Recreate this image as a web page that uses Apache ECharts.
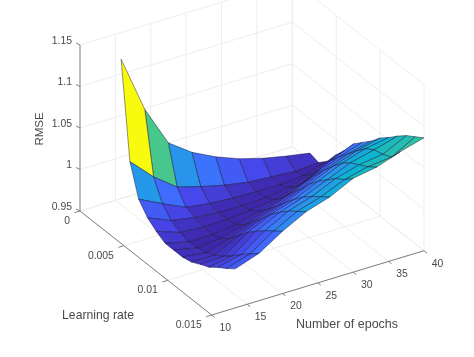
<!DOCTYPE html>
<html>
<head>
<meta charset="utf-8">
<style>
  html, body { margin: 0; background: #fff; }
  #chart { width: 474px; height: 357px; }
</style>
<script src="https://cdn.jsdelivr.net/npm/echarts@6/dist/echarts.min.js"></script>
</head>
<body>
<div id="chart"></div>
<script>
const epochs = [13.33, 16.67, 20, 23.33, 26.67, 30, 33.33, 36.67, 40];
const learningRates = [0.002, 0.003, 0.004, 0.005, 0.006, 0.007, 0.008, 0.009, 0.01, 0.011, 0.012, 0.013, 0.014, 0.015];
// one row per learning rate, one column per epoch count
const rmse = [
  [1.141, 1.072, 1.023, 1.003, 0.989, 0.978, 0.970, 0.964, 0.959],
  [1.026, 0.999, 0.978, 0.970, 0.963, 0.958, 0.956, 0.954, 0.956],
  [0.989, 0.975, 0.962, 0.958, 0.956, 0.955, 0.955, 0.957, 0.966],
  [0.975, 0.963, 0.958, 0.955, 0.955, 0.956, 0.960, 0.968, 0.982],
  [0.967, 0.957, 0.955, 0.955, 0.958, 0.962, 0.970, 0.982, 0.996],
  [0.961, 0.954, 0.954, 0.958, 0.965, 0.973, 0.985, 1.000, 1.012],
  [0.961, 0.955, 0.958, 0.966, 0.976, 0.987, 1.000, 1.013, 1.022],
  [0.961, 0.958, 0.966, 0.978, 0.988, 1.000, 1.014, 1.025, 1.032],
  [0.9635, 0.963, 0.978, 0.990, 1.001, 1.014, 1.027, 1.037, 1.044],
  [0.969, 0.970, 0.990, 1.003, 1.013, 1.026, 1.039, 1.048, 1.053],
  [0.974, 0.979, 1.000, 1.014, 1.024, 1.036, 1.048, 1.055, 1.063],
  [0.982, 0.989, 1.009, 1.024, 1.033, 1.046, 1.054, 1.058, 1.072],
  [0.989, 0.998, 1.017, 1.032, 1.041, 1.053, 1.060, 1.063, 1.079],
  [0.997, 1.007, 1.025, 1.040, 1.049, 1.063, 1.068, 1.078, 1.086]
];
const epochTicks = [10, 15, 20, 25, 30, 35, 40];
const lrTicks = [0, 0.005, 0.01, 0.015];
const rmseTicks = [0.95, 1, 1.05, 1.1, 1.15];

const parula = ["#3e26a8", "#4747eb", "#3e6fff", "#2796eb", "#08b5d0", "#45c78f", "#80cc59", "#dcbd29", "#f9fb0e"];

const epMin = epochTicks[0], epMax = epochTicks[epochTicks.length - 1];
const lrMax = lrTicks[lrTicks.length - 1];
const zMin = rmseTicks[0], zMax = rmseTicks[rmseTicks.length - 1];

// orthographic view of the box, in page pixels
const project = (ep, lr, z) => {
  const u = (ep - epMin) / (epMax - epMin);
  const v = lr / lrMax;
  const w = (z - zMin) / (zMax - zMin);
  return [80 + 212.3 * u + 131.7 * v, 211 - 64.3 * u + 104 * v - 166 * w];
};

const flat = rmse.flat();
const cMin = Math.min(...flat), cMax = Math.max(...flat);
const faceColor = (z) => echarts.color.lerp((z - cMin) / (cMax - cMin), parula);

// back to front so nearer faces paint over farther ones
const faces = [];
for (let i = 0; i < learningRates.length - 1; i++) {
  for (let j = epochs.length - 2; j >= 0; j--) faces.push([i, j]);
}

const wallLines = [];
epochTicks.forEach((e) => {
  wallLines.push([e, 0, zMin, e, lrMax, zMin]);
  wallLines.push([e, 0, zMin, e, 0, zMax]);
});
lrTicks.forEach((l) => {
  wallLines.push([epMin, l, zMin, epMax, l, zMin]);
  wallLines.push([epMax, l, zMin, epMax, l, zMax]);
});
rmseTicks.forEach((z) => {
  wallLines.push([epMin, 0, z, epMax, 0, z]);
  wallLines.push([epMax, 0, z, epMax, lrMax, z]);
});

const axisLines = [
  [epMin, 0, zMin, epMin, 0, zMax],
  [epMin, 0, zMin, epMin, lrMax, zMin],
  [epMin, lrMax, zMin, epMax, lrMax, zMin]
];

const axisColor = "#808080";
const textColor = "#4a4a4a";
const font = "Liberation Sans, Arial, sans-serif";

const tickLabel = (text, x, y, align) => ({
  type: "text",
  style: { text, x, y, align, verticalAlign: "middle", fontFamily: font, fontSize: 10.4, fill: textColor }
});

const axisTitle = (text, x, y, rotation, fontSize) => ({
  type: "text",
  x, y, rotation,
  style: { text, align: "center", verticalAlign: "middle", fontFamily: font, fontSize, fill: textColor }
});

const renderLine = (color) => (params, api) => {
  const a = api.coord(project(api.value(0), api.value(1), api.value(2)));
  const b = api.coord(project(api.value(3), api.value(4), api.value(5)));
  return {
    type: "line",
    shape: { x1: a[0], y1: a[1], x2: b[0], y2: b[1] },
    style: { stroke: color, lineWidth: 1 }
  };
};

const renderFace = (params, api) => {
  const i = api.value(0), j = api.value(1);
  const corners = [[i, j], [i, j + 1], [i + 1, j + 1], [i + 1, j]];
  return {
    type: "polygon",
    shape: { points: corners.map(([r, c]) => api.coord(project(epochs[c], learningRates[r], rmse[r][c]))) },
    style: { fill: faceColor(rmse[i][j]), stroke: "rgba(15,15,45,0.75)", lineWidth: 0.6, lineJoin: "round" }
  };
};

const renderAxisText = (params, api) => {
  const children = [];
  const line = (p, dx, dy) => {
    const a = api.coord(p);
    children.push({
      type: "line",
      shape: { x1: a[0], y1: a[1], x2: a[0] + dx, y2: a[1] + dy },
      style: { stroke: axisColor, lineWidth: 1 }
    });
    return a;
  };
  rmseTicks.forEach((z) => {
    const a = line(project(epMin, 0, z), -4, -2);
    children.push(tickLabel(String(z), a[0] - 8, a[1] - 4, "right"));
  });
  lrTicks.forEach((l) => {
    const a = line(project(epMin, l, zMin), -5.5, 1.7);
    children.push(tickLabel(String(l), a[0] - 10, a[1] + 10, "right"));
  });
  epochTicks.forEach((e) => {
    const a = line(project(e, lrMax, zMin), 3, 2.4);
    children.push(tickLabel(String(e), a[0] + 13.5, a[1] + 13, "center"));
  });
  children.push(axisTitle("RMSE", 39.5, 129, Math.PI / 2, 11.5));
  children.push(axisTitle("Learning rate", 98, 316, 0, 12.2));
  children.push(axisTitle("Number of epochs", 347, 325, 0, 12.5));
  return { type: "group", children };
};

const chart = echarts.init(document.getElementById("chart"), null, { renderer: "canvas" });
chart.setOption({
  animation: false,
  backgroundColor: "#fff",
  grid: { left: 0, right: 0, top: 0, bottom: 0 },
  xAxis: { type: "value", min: 0, max: 474, show: false },
  yAxis: { type: "value", min: 0, max: 357, inverse: true, show: false },
  series: [
    { type: "custom", data: wallLines, renderItem: renderLine("#eeeeee"), clip: false, silent: true, z: 1 },
    { type: "custom", data: axisLines, renderItem: renderLine(axisColor), clip: false, silent: true, z: 2 },
    { type: "custom", data: [[0]], renderItem: renderAxisText, clip: false, silent: true, z: 3 },
    { type: "custom", data: faces, renderItem: renderFace, clip: false, silent: true, z: 4 }
  ]
});
</script>
</body>
</html>
